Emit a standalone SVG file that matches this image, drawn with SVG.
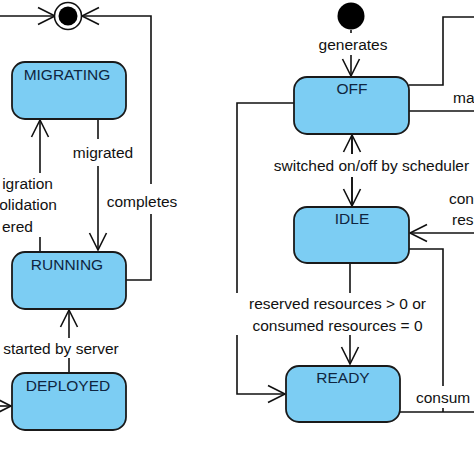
<svg xmlns="http://www.w3.org/2000/svg" width="474" height="474" viewBox="0 0 474 474">
<style>
.st{fill:#7ccdf3;stroke:#1a1a1a;stroke-width:1.8}
.nm{font-family:"Liberation Sans",Arial,sans-serif;font-size:15.5px;fill:#0f2540;text-anchor:middle}
.lb{font-family:"Liberation Sans",Arial,sans-serif;font-size:15.5px;fill:#111}
.c{fill:none;stroke:#111;stroke-width:1.6}
.bg{fill:#fff}
</style>
<defs>
<marker id="arr" markerUnits="userSpaceOnUse" markerWidth="22" markerHeight="22" viewBox="0 0 22 22" refX="19" refY="10" orient="auto">
<path d="M2,1.5 L19,10 L2,18.5" fill="none" stroke="#111" stroke-width="1.6"/>
</marker>
</defs>
<rect width="474" height="474" fill="#fff"/>
<g id="connectors">
<path class="c" d="M126,280 H151 V16 H82" marker-end="url(#arr)"/>
<path class="c" d="M-10,16 H55" marker-end="url(#arr)"/>
<path class="c" d="M98,119 V250" marker-end="url(#arr)"/>
<path class="c" d="M40,252 V120" marker-end="url(#arr)"/>
<path class="c" d="M69,373 V310" marker-end="url(#arr)"/>
<path class="c" d="M-8,406 H11" marker-end="url(#arr)"/>
<path class="c" d="M351,30 V76" marker-end="url(#arr)"/>
<path class="c" d="M409,85 H443 V17 H480"/>
<path class="c" d="M409,111 H480"/>
<path class="c" d="M294,103 H237 V394 H285" marker-end="url(#arr)"/>
<path class="c" d="M352,206 V135" marker-end="url(#arr)" stroke-width="2.4"/>
<path class="c" d="M352,136 V206" marker-end="url(#arr)" stroke-width="2.4"/>
<path class="c" d="M480,233 H410" marker-end="url(#arr)"/>
<path class="c" d="M409,249 H443 V412"/>
<path class="c" d="M400,412 H480"/>
<path class="c" d="M350,263 V364" marker-end="url(#arr)"/>
<rect class="bg" x="105" y="184" width="74" height="30"/>
<text class="lb" x="142" y="207" text-anchor="middle">completes</text>
<rect class="bg" x="70" y="139" width="66" height="27"/>
<text class="lb" x="103" y="158" text-anchor="middle">migrated</text>
<rect class="bg" x="0" y="173" width="60" height="64"/>
<text class="lb" x="53" y="189" text-anchor="end">igration</text>
<text class="lb" x="57" y="210" text-anchor="end">olidation</text>
<text class="lb" x="33" y="232" text-anchor="end">ered</text>
<rect class="bg" x="1" y="338" width="122" height="20"/>
<text class="lb" x="61" y="354" text-anchor="middle">started by server</text>
<rect class="bg" x="316" y="33" width="74" height="22"/>
<text class="lb" x="353" y="50" text-anchor="middle">generates</text>
<text class="lb" x="453" y="103">ma</text>
<rect class="bg" x="270" y="154" width="204" height="23"/>
<text class="lb" x="371.5" y="171" text-anchor="middle">switched on/off by scheduler</text>
<rect class="bg" x="230" y="293" width="204" height="42"/>
<text class="lb" x="337.5" y="309" text-anchor="middle">reserved resources &gt; 0 or</text>
<text class="lb" x="337.5" y="331" text-anchor="middle">consumed resources = 0</text>
<text class="lb" x="449" y="204">con</text>
<text class="lb" x="452" y="225">res</text>
<rect class="bg" x="414" y="386" width="60" height="22"/>
<text class="lb" x="416" y="403">consum</text>
</g>
<g id="final">
<circle cx="68" cy="16" r="13.5" fill="#fff" stroke="#111" stroke-width="1.6"/>
<circle cx="68" cy="16" r="9.5" fill="#000"/>
</g>
<g id="initial">
<circle cx="351" cy="16" r="13.5" fill="#000"/>
</g>
<g id="migrating">
<rect class="st" x="12" y="62" width="114" height="57" rx="13"/>
<text class="nm" x="67" y="80">MIGRATING</text>
</g>
<g id="running">
<rect class="st" x="12" y="252" width="114" height="57" rx="13"/>
<text class="nm" x="67" y="270">RUNNING</text>
</g>
<g id="deployed">
<rect class="st" x="12" y="373" width="114" height="57" rx="13"/>
<text class="nm" x="68" y="391">DEPLOYED</text>
</g>
<g id="off">
<rect class="st" x="294" y="77" width="115" height="57" rx="13"/>
<text class="nm" x="352" y="94">OFF</text>
</g>
<g id="idle">
<rect class="st" x="294" y="207" width="115" height="56" rx="13"/>
<text class="nm" x="352" y="224">IDLE</text>
</g>
<g id="ready">
<rect class="st" x="286" y="366" width="114" height="56" rx="13"/>
<text class="nm" x="343" y="383">READY</text>
</g>
</svg>
